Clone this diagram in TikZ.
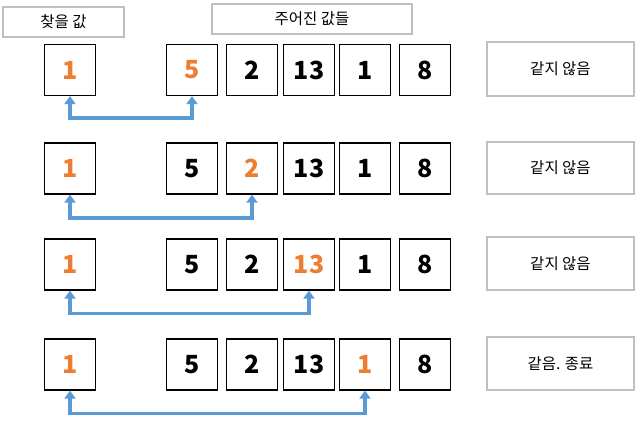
\documentclass[tikz,border=0pt]{standalone}
\usepackage{fontspec}
\setmainfont{Noto Sans CJK KR}
\usetikzlibrary{arrows.meta}
\definecolor{hit}{HTML}{ED7D31}
\definecolor{link}{HTML}{5B9BD5}
\definecolor{frame}{HTML}{BFBFBF}
\tikzset{
  cell/.style={draw=black, line width=1.3pt, minimum width=51pt, minimum height=51pt, inner sep=0pt, font=\fontsize{25}{25}\selectfont\bfseries},
  hot/.style={text=hit},
  tag/.style={draw=frame, line width=1.1pt, inner sep=0pt, font=\fontsize{15.5}{15.5}\selectfont},
  link/.style={draw=link, line width=3.5pt, {Triangle[width=11pt,length=8pt]}-{Triangle[width=11pt,length=8pt]}}
}
\begin{document}
\begin{tikzpicture}[x=1pt,y=-1pt]
\useasboundingbox (0,0) rectangle (641,423);
\node[tag, minimum width=121pt, minimum height=30pt] (h1) at (63.5,22) {찾을 값};
\node[tag, minimum width=200pt, minimum height=30pt] (h2) at (312,19) {주어진 값들};
% row 1
\node[cell,hot] (k1) at (70,70) {1};
\node[cell,hot] (a1) at (192,70) {5};
\node[cell] (b1) at (252,70) {2};
\node[cell] (c1) at (309,70) {13};
\node[cell] (d1) at (365,70) {1};
\node[cell] (e1) at (425,70) {8};
\node[tag, minimum width=147pt, minimum height=54pt] (t1) at (560.5,69) {같지 않음};
\draw[link] (k1.south) -- ++(0,22) -| (a1.south);
% row 2
\node[cell,hot] (k2) at (70,168.5) {1};
\node[cell] (a2) at (192,168.5) {5};
\node[cell,hot] (b2) at (252,168.5) {2};
\node[cell] (c2) at (309,168.5) {13};
\node[cell] (d2) at (365,168.5) {1};
\node[cell] (e2) at (425,168.5) {8};
\node[tag, minimum width=147pt, minimum height=52pt] (t2) at (560.5,168) {같지 않음};
\draw[link] (k2.south) -- ++(0,23.5) -| (b2.south);
% row 3
\node[cell,hot] (k3) at (70,264.5) {1};
\node[cell] (a3) at (192,264.5) {5};
\node[cell] (b3) at (252,264.5) {2};
\node[cell,hot] (c3) at (309,264.5) {13};
\node[cell] (d3) at (365,264.5) {1};
\node[cell] (e3) at (425,264.5) {8};
\node[tag, minimum width=147pt, minimum height=53pt] (t3) at (560.5,263.5) {같지 않음};
\draw[link] (k3.south) -- ++(0,23) -| (c3.south);
% row 4
\node[cell,hot] (k4) at (70,364.5) {1};
\node[cell] (a4) at (192,364.5) {5};
\node[cell] (b4) at (252,364.5) {2};
\node[cell] (c4) at (309,364.5) {13};
\node[cell,hot] (d4) at (365,364.5) {1};
\node[cell] (e4) at (425,364.5) {8};
\node[tag, minimum width=147pt, minimum height=53pt] (t4) at (560.5,363.5) {같음. 종료};
\draw[link] (k4.south) -- ++(0,23) -| (d4.south);
\end{tikzpicture}
\end{document}
